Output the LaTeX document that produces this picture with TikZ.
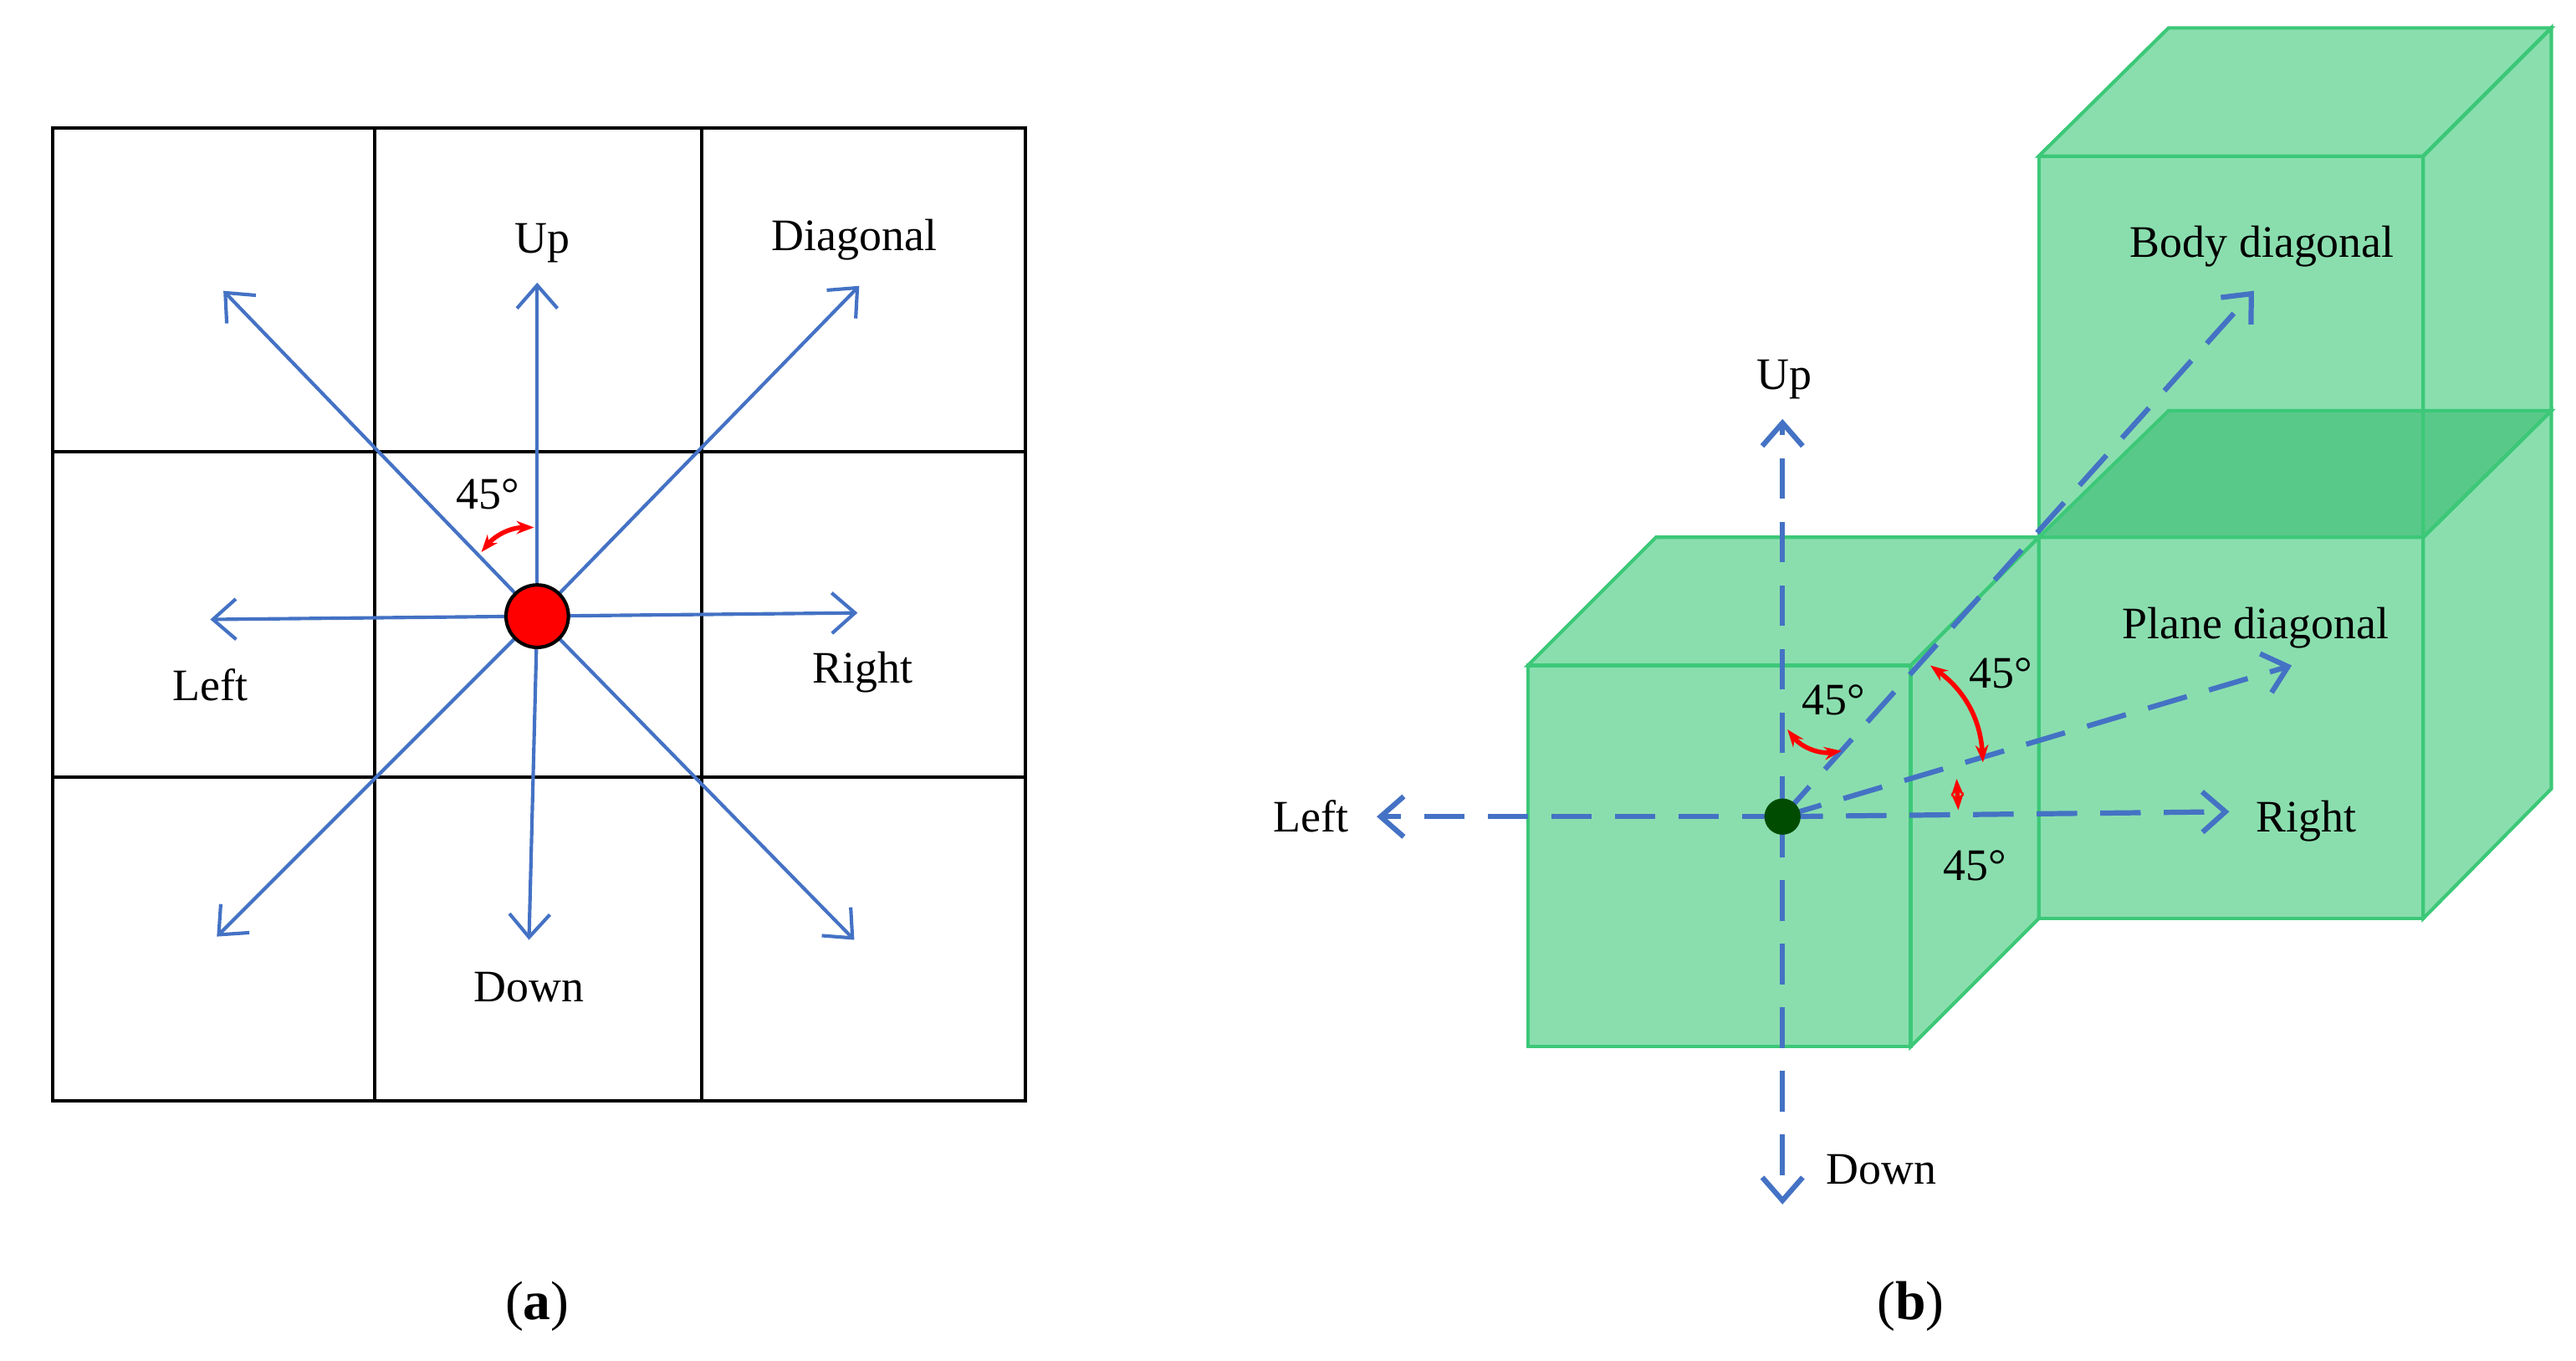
\documentclass[tikz,border=0pt]{standalone}
\usepackage{fontspec}
\setmainfont{Liberation Serif}
\usetikzlibrary{arrows.meta}
\definecolor{dirblue}{RGB}{68,114,196}
\definecolor{cubegreen}{RGB}{60,200,120}
\tikzset{
  dir/.style={draw=dirblue, line width=0.6pt, -{Straight Barb[length=4pt,width=7pt]}},
  dashdir/.style={dir, line width=0.9pt, dash pattern=on 7pt off 4pt},
  ang/.style={draw=red, line width=0.8pt, {Stealth[length=3pt]}-{Stealth[length=3pt]}},
  lbl/.style={font=\fontsize{7.8}{9}\selectfont},
  face/.style={fill=cubegreen, fill opacity=0.6, draw=cubegreen, line width=0.6pt},
}
\begin{document}
\begin{tikzpicture}[x=0.01cm, y=-0.01cm]
  \useasboundingbox (0,0) rectangle (1568,828);

  % (a) plane grid
  \draw[line width=0.6pt] (32,78) rectangle (624,670);
  \draw[line width=0.6pt] (228,78) -- (228,670) (427,78) -- (427,670)
    (32,275) -- (624,275) (32,473) -- (624,473);
  \coordinate (aU) at (327,172);
  \coordinate (aD) at (322,572);
  \coordinate (aL) at (128,377);
  \coordinate (aR) at (522,373);
  \coordinate (aUL) at (136,177);
  \coordinate (aUR) at (523,174);
  \coordinate (aDL) at (132,570);
  \coordinate (aDR) at (520,572);
  \foreach \t in {aU,aD,aL,aR,aUL,aUR,aDL,aDR}
    \draw[dir] (327,375) -- (\t);
  \node[circle, fill=red, draw=black, line width=0.6pt, minimum size=0.38cm, inner sep=0] (ca) at (327,375) {};
  \draw[ang] (293,336) to[bend left=25] (325,321);
  \node[lbl] (a45) at (297,301) {45°};
  \node[lbl] (aup) at (330,148) {Up};
  \node[lbl] (adiag) at (520,146) {Diagonal};
  \node[lbl] (aleft) at (128,417) {Left};
  \node[lbl] (aright) at (525,409) {Right};
  \node[lbl] (adown) at (322,601) {Down};
  \node[font=\fontsize{9.5}{11}\selectfont] (capa) at (327,795) {(\textbf{a})};

  % (b) cubes
  \draw[face] (930,405) -- (1008,327) -- (1241,327) -- (1163,405) -- cycle;
  \draw[face] (930,405) rectangle (1163,637);
  \draw[face] (1163,405) -- (1241,327) -- (1241,559) -- (1163,637) -- cycle;
  \draw[face] (1241,327) rectangle (1475,559);
  \draw[face, fill=cubegreen!85!black] (1241,327) -- (1320,250) -- (1553,250) -- (1475,327) -- cycle;
  \draw[face] (1475,327) -- (1553,250) -- (1553,480) -- (1475,559) -- cycle;
  \draw[face] (1241,95) rectangle (1475,327);
  \draw[face] (1241,95) -- (1320,17) -- (1553,17) -- (1475,95) -- cycle;
  \draw[face] (1475,95) -- (1553,17) -- (1553,250) -- (1475,327) -- cycle;

  \coordinate (bU) at (1085,255);
  \coordinate (bD) at (1085,733);
  \coordinate (bL) at (838,497);
  \coordinate (bR) at (1357,494);
  \coordinate (bP) at (1395,405);
  \coordinate (bB) at (1372,177);
  \foreach \t in {bU,bD,bL,bR,bP,bB}
    \draw[dashdir] (1085,497) -- (\t);
  \node[circle, fill=black!50!green!60!black, minimum size=0.22cm, inner sep=0] (cb) at (1085,497) {};
  \draw[ang] (1088,444) to[bend right=30] (1121,457);
  \draw[ang] (1175,405) to[bend left=25] (1207,464);
  \draw[ang] (1191,474) -- (1192,493);
  \node[lbl] (b45a) at (1116,426) {45°};
  \node[lbl] (b45b) at (1218,410) {45°};
  \node[lbl] (b45c) at (1202,527) {45°};
  \node[lbl] (bup) at (1086,231) {Up};
  \node[lbl] (bdown) at (1145,712) {Down};
  \node[lbl] (bleft) at (798,497) {Left};
  \node[lbl] (bright) at (1404,500) {Right};
  \node[lbl] (bplane) at (1373,382) {Plane diagonal};
  \node[lbl] (bbody) at (1377,150) {Body diagonal};
  \node[font=\fontsize{9.5}{11}\selectfont] (capb) at (1163,795) {(\textbf{b})};
\end{tikzpicture}
\end{document}
